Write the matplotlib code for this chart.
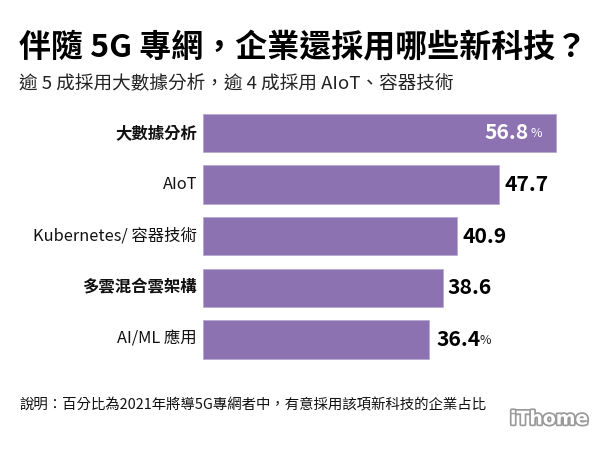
import matplotlib
matplotlib.use("Agg")
import matplotlib.pyplot as plt
import matplotlib.patheffects as pe

plt.rcParams['font.family'] = ['Noto Sans CJK TC', 'DejaVu Sans']

categories = ["大數據分析", "AIoT", "Kubernetes/ 容器技術", "多雲混合雲架構", "AI/ML 應用"]
values = [56.8, 47.7, 40.9, 38.6, 36.4]
title = "伴隨 5G 專網，企業還採用哪些新科技？"
subtitle = "逾 5 成採用大數據分析，逾 4 成採用 AIoT、容器技術"
note = "說明：百分比為2021年將導5G專網者中，有意採用該項新科技的企業占比"
BAR = "#8c72b0"

W, H = 600, 451
fig = plt.figure(figsize=(W/100, H/100), dpi=100, facecolor="white")

def fx(x): return x / W
def fy(y): return 1 - y / H

ax = fig.add_axes([fx(203), fy(365.2), (575-203)/W, 258/H])
ypos = list(range(len(values)))
ax.barh(ypos, values, height=0.746, color=BAR, edgecolor="#b9a9d2", linewidth=0.6)
ax.set_xlim(0, (575-203)/6.215)
ax.set_ylim(len(values)-0.5, -0.5)
ax.axis("off")

for i, (c, v) in enumerate(zip(categories, values)):
    weight = "bold" if i in (0, 3) else "medium"
    ax.annotate(c, (0, i), xytext=(-6, 0), textcoords="offset pixels", ha="right",
                va="center", fontsize=11.8, fontweight=weight, color="#111111")
    if i == 0:
        ax.annotate(f"{v}", (v, i), xytext=(-27, 0), textcoords="offset pixels", ha="right",
                    va="center", fontsize=15.2, fontweight="bold", color="white")
        ax.annotate("%", (v, i), xytext=(-26, -1), textcoords="offset pixels", ha="left",
                    va="center", fontsize=9, color="white")
    else:
        ax.annotate(f"{v}", (v, i), xytext=(5 if i < 4 else 7, 0), textcoords="offset pixels", ha="left",
                    va="center", fontsize=15.2, fontweight="bold", color="black")
ax.annotate("%", (values[4], 4), xytext=(50, -1), textcoords="offset pixels", ha="left",
            va="center", fontsize=9, color="#222222")

fig.text(fx(19), fy(48), title, fontsize=23, fontweight="bold", color="black", ha="left", va="center")
fig.text(fx(19), fy(83), subtitle, fontsize=13.4, color="#222222", ha="left", va="center")
fig.text(fx(19), fy(405), note, fontsize=10.4, color="#111111", ha="left", va="center")
fig.text(fx(510), fy(419), "iThome", fontsize=13.6, fontweight="bold", color="white", ha="left", va="center",
         family="DejaVu Sans",
         path_effects=[pe.withStroke(linewidth=2.5, foreground="#9a9a9a")])

fig.savefig("out.png", dpi=100, facecolor="white")
